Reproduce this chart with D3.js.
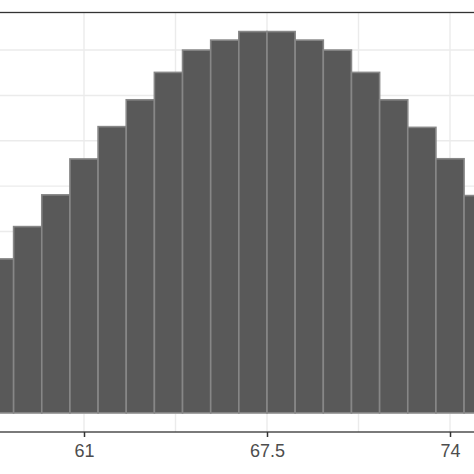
<!DOCTYPE html>
<html>
<head>
<meta charset="utf-8">
<script src="https://cdn.jsdelivr.net/npm/d3@7"></script>
<style>
html,body{margin:0;padding:0;background:#fff;}
svg{display:block;}
</style>
</head>
<body>
<script>
// Histogram bins (centers) and counts
const binCenters = [58, 59, 60, 61, 62, 63, 64, 65, 66, 67, 68, 69, 70, 71, 72, 73, 74, 75];
const counts     = [849, 1027, 1202, 1400, 1578, 1726, 1877, 2000, 2055, 2102, 2102, 2055, 2000, 1877, 1726, 1574, 1401, 1198];
const xTicks = [61, 67.5, 74];
const xMinorTicks = [64.25, 70.75];
const yGrid = [0, 250, 500, 750, 1000, 1250, 1500, 1750, 2000];
const binWidth = 1;

const W = 474, H = 474;
const svg = d3.select("body").append("svg").attr("width", W).attr("height", H);

const x = d3.scaleLinear().domain([61, 74]).range([84, 450]);
const yMax = d3.max(counts);
const pad = yMax * 0.05;
const y = d3.scaleLinear().domain([-pad, yMax + pad]).range([432, 12.5]);

const panelLeft = -30, panelRight = W + 30;

// panel background
svg.append("rect").attr("x", panelLeft).attr("y", y.range()[1]).attr("width", panelRight - panelLeft)
  .attr("height", y.range()[0] - y.range()[1]).attr("fill", "#fff");

// grid
const g = svg.append("g");
g.selectAll("line.hg").data(yGrid).join("line").attr("class", "hg")
  .attr("x1", panelLeft).attr("x2", panelRight)
  .attr("y1", d => y(d)).attr("y2", d => y(d))
  .attr("stroke", "#ebebeb").attr("stroke-width", 1.4);
g.selectAll("line.vg").data(xTicks.concat(xMinorTicks)).join("line").attr("class", "vg")
  .attr("x1", d => x(d)).attr("x2", d => x(d))
  .attr("y1", y.range()[1]).attr("y2", y.range()[0])
  .attr("stroke", "#ebebeb").attr("stroke-width", 1.4);

// bars
svg.append("g").selectAll("rect").data(binCenters).join("rect")
  .attr("x", d => x(d - binWidth / 2))
  .attr("width", d => x(d + binWidth / 2) - x(d - binWidth / 2))
  .attr("y", (d, i) => y(counts[i]))
  .attr("height", (d, i) => y(0) - y(counts[i]))
  .attr("fill", "#595959")
  .attr("stroke", "#878787")
  .attr("stroke-width", 1.6);

// panel border
svg.append("rect").attr("x", panelLeft).attr("y", y.range()[1]).attr("width", panelRight - panelLeft)
  .attr("height", y.range()[0] - y.range()[1]).attr("fill", "none")
  .attr("stroke", "#333333").attr("stroke-width", 1.3);

// x axis
const axis = d3.axisBottom(x).tickValues(xTicks).tickSize(5).tickPadding(7)
  .tickFormat(d => String(d));
const ag = svg.append("g").attr("transform", `translate(0,${y.range()[0]})`).call(axis);
ag.select(".domain").remove();
ag.selectAll(".tick line").attr("stroke", "#333333").attr("stroke-width", 1.5);
ag.selectAll(".tick text").attr("fill", "#4d4d4d")
  .style("font-family", "'Liberation Sans', Arial, sans-serif").style("font-size", "18px");
</script>
</body>
</html>
